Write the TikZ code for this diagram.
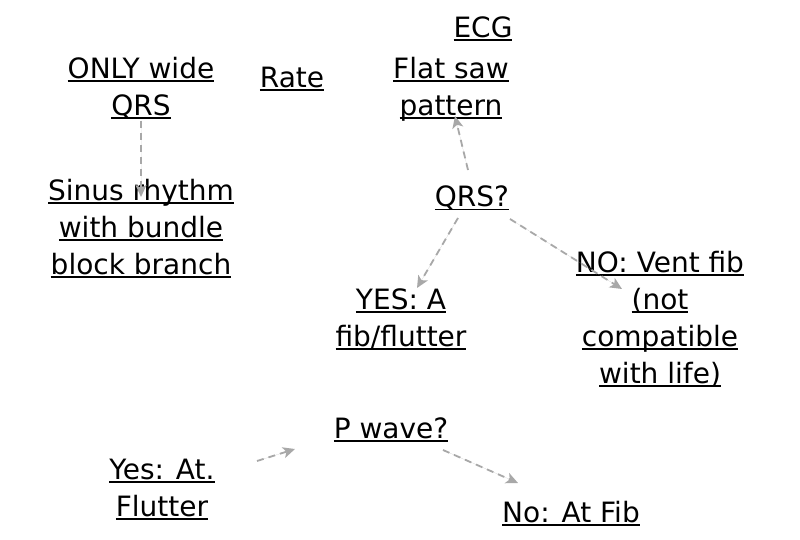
\documentclass[tikz,border=0pt]{standalone}
\usepackage{fontspec}
\setmainfont{DejaVu Sans}
\usetikzlibrary{arrows.meta,calc}
\definecolor{arrowgray}{HTML}{A8A8A8}
\newcommand{\ulin}[1]{\setbox0=\hbox{#1}\rlap{\rule[-3.5pt]{\wd0}{2pt}}\rule[-8pt]{0pt}{30pt}\box0}
\tikzset{
    entry/.style={font=\fontsize{28}{37}\selectfont,align=center,inner sep=0pt,outer sep=0pt,anchor=north},
    darr/.style={->,>={Stealth[length=12pt,width=11pt,inset=3pt]},draw=arrowgray,fill=arrowgray,line width=1.8pt,dash pattern=on 7pt off 5pt},
}

\begin{document}
\begin{tikzpicture}[x=1pt,y=-1pt]
    \fill[white] (0,0) rectangle (800,540);
    \useasboundingbox (0,0) rectangle (800,540);

    \node[entry] (ecg) at (483,16) {\ulin{ECG}};
    \node[entry] (only) at (141,57) {\ulin{ONLY wide}\\\ulin{QRS}};
    \node[entry] (rate) at (292,66) {\ulin{Rate}};
    \node[entry] (flat) at (451,57) {\ulin{Flat saw}\\\ulin{pattern}};
    \node[entry] (qrs) at (472,185) {\ulin{QRS?}};
    \node[entry] (sinus) at (141,178) {\ulin{Sinus rhythm}\\\ulin{with bundle}\\\ulin{block branch}};
    \node[entry] (yes) at (401,287) {\ulin{YES: A}\\\ulin{fib/flutter}};
    \node[entry] (no) at (660,250) {\ulin{NO: Vent fib}\\\ulin{(not}\\\ulin{compatible}\\\ulin{with life)}};
    \node[entry] (pwave) at (391,416) {\ulin{P wave?}};
    \node[entry] (yesat) at (162,457) {\ulin{Yes: At.}\\\ulin{Flutter}};
    \node[entry] (noaf) at (571,500) {\ulin{No: At Fib}};

    \draw[darr] ($(only.south)+(0,-3)$) -- ($(sinus.north)+(0,19)$);
    \draw[darr] ($(qrs.north)+(-4,-15)$) -- ($(flat.south)+(4,-8)$);
    \draw[darr] ($(qrs.south)+(-14,3)$) -- ($(yes.north)+(16,1)$);
    \draw[darr] ($(qrs.south)+(38,4)$) -- ($(no.north)+(-38,39)$);
    \draw[darr] ($(yesat.north)+(95,4)$) -- ($(pwave.south)+(-96,3)$);
    \draw[darr] ($(pwave.south)+(52,4)$) -- ($(noaf.north)+(-53,-17)$);
\end{tikzpicture}
\end{document}
